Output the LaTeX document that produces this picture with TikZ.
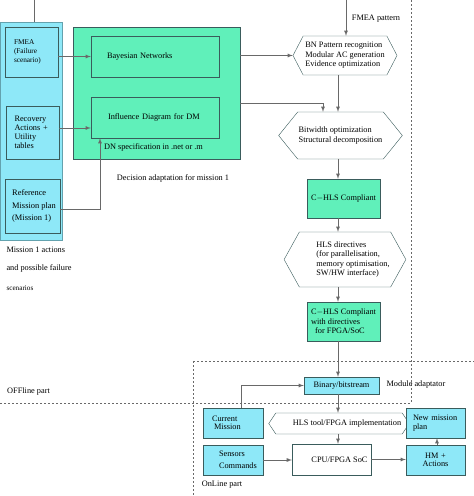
\documentclass[tikz,border=0pt]{standalone}
\usepackage{fontspec}
\setmainfont{Liberation Serif}
\usepackage{xcolor}
\usepackage{tikz}
\usetikzlibrary{shapes,arrows,positioning}

\definecolor{cyanfill}{RGB}{142,232,248}
\definecolor{mintfill}{RGB}{96,240,186}
\definecolor{edgecol}{RGB}{58,92,92}
\definecolor{linecol}{RGB}{105,105,105}

\begin{document}
\begin{tikzpicture}[
  x=1pt, y=-1pt,
  font=\fontsize{8.3}{9.6}\selectfont,
  bluebox/.style={rectangle, draw=edgecol, fill=cyanfill, align=left, inner sep=2pt},
  greenbox/.style={rectangle, draw=edgecol, fill=mintfill, align=left, inner sep=2pt},
  plainbox/.style={rectangle, draw=edgecol, fill=white, align=center},
  hexbox/.style={signal, signal to=west and east, draw=edgecol, fill=white, align=left, inner sep=1pt},
  arrow/.style={->, draw=linecol, thick, >=latex},
  line/.style={draw=linecol, thick},
  border/.style={draw=linecol, dash pattern=on 2pt off 2pt},
  label/.style={font=\fontsize{8.3}{9.6}\selectfont}
]
\useasboundingbox (0,0) rectangle (474,496);

% Offline/online borders
\draw[border] (411,0) -- (411,403);
\draw[border] (193,361) -- (474,361);
\draw[border] (0,403) -- (411,403);
\draw[border] (193,361) -- (193,496);

% Mission 1 inputs
\node[rectangle, draw=cyanfill!70!black, fill=cyanfill, minimum width=62, minimum height=218] (inputs) at (31,131) {};
\node[bluebox, minimum width=53, minimum height=50, inner xsep=9pt, text width=35, font=\fontsize{7.3}{9}\selectfont] (fmea) at (31.5,52) {FMEA\\(Failure\\scenario)};
\node[bluebox, minimum width=53, minimum height=53, inner xsep=8.5pt, text width=36, font=\fontsize{8.3}{8.9}\selectfont] (recov) at (32.5,132.5) {Recovery\\Actions +\\Utility\\tables};
\node[bluebox, minimum width=55, minimum height=54, font=\fontsize{8.4}{12.4}\selectfont] (refplan) at (32.5,206) {\hspace*{3pt}Reference\\\hspace*{3pt}Mission plan\\\hspace*{3pt}(Mission 1)};
\coordinate (intop) at (34,0);
\draw[line] (intop) -- (intop |- inputs.north);
\node[label, anchor=west] (cap1) at (3,250) {Mission 1 actions};
\node[label, anchor=west] (cap2) at (3,268) {and possible failure};
\node[font=\fontsize{7.2}{8}\selectfont, anchor=west] (cap3) at (3,288) {scenarios};

% Decision network
\node[greenbox, minimum width=167, minimum height=132] (dn) at (156.5,93) {};
\node[greenbox, minimum width=128, minimum height=41, inner xsep=16pt, text width=96] (bayes) at (155,56.5) {Bayesian Networks};
\node[greenbox, minimum width=128, minimum height=41, inner xsep=17pt, text width=94] (infl) at (155,117.5) {Influence Diagram for DM\\[4pt]};
\node[label] (dnspec) at (153.5,147) {DN specification in .net or .m};
\node[label] (adapt) at (173,178) {Decision adaptation for mission 1};
\draw[arrow] (fmea.east |- bayes.west) -- (bayes.west);
\draw[arrow] ([yshift=4.5pt]recov.east) -- ([yshift=4.5pt]recov.east -| infl.west);
\draw[arrow] ([yshift=-3pt]refplan.east) -| ([xshift=-55pt]infl.south);

% HLS flow
\coordinate (col) at (338,0);
\coordinate (side) at (323,0);
\node[hexbox, minimum width=104, minimum height=39, signal pointer angle=125] (bnhex) at (345,55.5) {BN Pattern recognition\\Modular AC generation\\Evidence optimization};
\coordinate (fmeatop) at (346,0);
\draw[arrow] (fmeatop) -- (fmeatop |- bnhex.north);
\node[label] (fmeapat) at (376,19) {FMEA pattern};
\draw[arrow] (dn.east |- bnhex.west) -- (bnhex.west);
\node[hexbox, minimum width=115, minimum height=47, signal pointer angle=102] (bwhex) at (340.5,135.5) {Bitwidth optimization\\Structural decomposition};
\draw[arrow] (col |- bnhex.south) -- (col |- bwhex.north);
\draw[arrow] ([yshift=-10pt]dn.east) -| (side |- bwhex.north);
\node[greenbox, minimum width=73, minimum height=39, align=center] (chls) at (343.5,198.5) {C$-$HLS Compliant};
\draw[arrow] (col |- bwhex.south) -- (col |- chls.north);
\node[hexbox, minimum width=104, minimum height=55, signal pointer angle=122] (hlshex) at (345,259.5) {\hspace*{16pt}HLS directives\\\hspace*{16pt}(for parallelisation,\\\hspace*{16pt}memory optimisation,\\\hspace*{16pt}SW/HW interface)};
\draw[arrow] (col |- chls.south) -- (col |- hlshex.north);
\node[greenbox, minimum width=73, minimum height=39] (chlsdir) at (343.5,321.5) {C$-$HLS Compliant\\with directives\\\ \ for FPGA/SoC};
\draw[arrow] (col |- hlshex.south) -- (col |- chlsdir.north);
\node[bluebox, minimum width=75, minimum height=17, align=center] (bin) at (341.5,385.5) {Binary/bitstream};
\draw[arrow] (col |- chlsdir.south) -- (col |- bin.north);
\node[label] (modad) at (416,384) {Module adaptator};
\node[label] (offl) at (28.5,391) {OFFline part};

% Online part
\node[hexbox, minimum width=122, minimum height=21, signal pointer angle=112] (toolhex) at (339,423.5) {\hspace*{16pt}HLS tool/FPGA implementation};
\draw[arrow] (col |- bin.south) -- (col |- toolhex.north);
\node[plainbox, minimum width=77, minimum height=31] (cpu) at (331.5,459.5) {\hspace*{16pt}CPU/FPGA SoC};
\draw[arrow] (col |- toolhex.south) -- (col |- cpu.north);
\node[bluebox, minimum width=60, minimum height=30, inner xsep=9pt, text width=42, font=\fontsize{8.3}{8}\selectfont] (curm) at (233,423) {Current\\\hspace*{2pt}Mission\\[2pt]};
\node[bluebox, minimum width=60, minimum height=30, inner xsep=4pt, text width=52, font=\fontsize{8.3}{12}\selectfont] (sens) at (233,460) {\hspace*{12pt}Sensors\\\hspace*{12pt}Commands};
\node[bluebox, minimum width=59, minimum height=30, inner xsep=7pt, text width=45] (newm) at (435.5,423) {New mission\\plan\\[5pt]};
\node[bluebox, minimum width=59, minimum height=30, inner xsep=2pt, text width=55, align=center, font=\fontsize{8.3}{7.5}\selectfont] (hm) at (435.5,460) {HM +\hspace*{6pt}\\Actions\hspace*{6pt}};
\node[label] (onl) at (222,485) {OnLine part};
\draw[arrow] ([xshift=8pt]curm.north) |- (bin.west);
\draw[arrow] (sens.east) -- (sens.east -| cpu.west);
\draw[arrow] (cpu.east) -- (cpu.east -| hm.west);
\draw[arrow] ([xshift=1.5pt]hm.north) -- ([xshift=1.5pt]newm.south);
\end{tikzpicture}
\end{document}
